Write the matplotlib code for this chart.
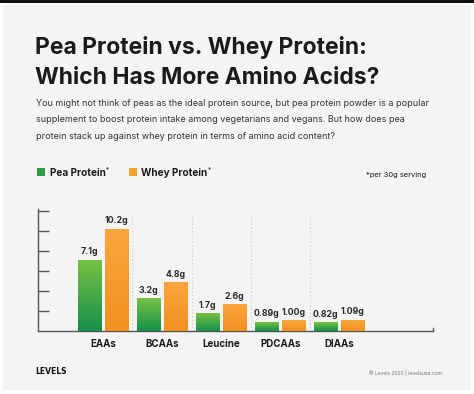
import matplotlib
matplotlib.use("Agg")
import matplotlib.pyplot as plt
import matplotlib.patches as patches
from matplotlib.colors import LinearSegmentedColormap
import numpy as np

##########################
# Data
##########################
categories = ["EAAs", "BCAAs", "Leucine", "PDCAAs", "DIAAs"]
pea_values = [7.1, 3.2, 1.7, 0.89, 0.82]
whey_values = [10.2, 4.8, 2.6, 1.00, 1.09]
pea_labels = ["7.1g", "3.2g", "1.7g", "0.89g", "0.82g"]
whey_labels = ["10.2g", "4.8g", "2.6g", "1.00g", "1.09g"]
y_ticks = [2, 4, 6, 8, 10, 12]

##########################
# Constants
##########################
W, H = 474, 394
bg_grey = "#f4f4f4"
text_dark = "#1b1b1b"
axis_grey = "#555555"
pea_cmap = LinearSegmentedColormap.from_list("pea", ["#15904a", "#76c143"])
whey_cmap = LinearSegmentedColormap.from_list("whey", ["#f39020", "#f9a63d"])
bar_w = 0.39
offset = 0.229
font = ["Inter", "DejaVu Sans"]


def fx(x):
    return x / W


def fy(y):
    return 1 - y / H


def gradient_bar(ax, x0, height, cmap):
    grad = np.linspace(0, 1, 64).reshape(-1, 1)
    ax.imshow(grad, extent=[x0 - bar_w / 2, x0 + bar_w / 2, 0, height],
              origin="lower", aspect="auto", cmap=cmap, zorder=3)


fig = plt.figure(figsize=(W / 100, H / 100), dpi=100, facecolor="white")

# panel background + black strip on top
fig.patches.append(patches.Rectangle((fx(3), fy(390)), fx(468), (390 - 5) / H,
                                     transform=fig.transFigure, facecolor=bg_grey,
                                     edgecolor="none", zorder=-5))
fig.patches.append(patches.Rectangle((0, fy(2.5)), 1, 2.5 / H, transform=fig.transFigure,
                                     facecolor="#111111", edgecolor="none", zorder=-5))

# header
fig.text(fx(35), fy(54), "Pea Protein vs. Whey Protein:", family=font, weight="bold",
         fontsize=16.5, color=text_dark, va="baseline")
fig.text(fx(35), fy(84), "Which Has More Amino Acids?", family=font, weight="bold",
         fontsize=16.5, color=text_dark, va="baseline")
para = ["You might not think of peas as the ideal protein source, but pea protein powder is a popular",
        "supplement to boost protein intake among vegetarians and vegans. But how does pea",
        "protein stack up against whey protein in terms of amino acid content?"]
for i, line in enumerate(para):
    fig.text(fx(36), fy(106 + i * 16.5), line, family=font, fontsize=6.47,
             color="#333333", va="baseline")

# legend
fig.patches.append(patches.Rectangle((fx(37), fy(176)), fx(8), 8 / H, transform=fig.transFigure,
                                     facecolor="#2e9a44", edgecolor="none"))
fig.text(fx(50), fy(176), "Pea Protein", family=font, weight="bold", fontsize=7.2,
         color=text_dark, va="baseline")
fig.text(fx(105.5), fy(171), "*", family=font, fontsize=4.5, color=text_dark, va="baseline")
fig.patches.append(patches.Rectangle((fx(129), fy(176)), fx(8), 8 / H, transform=fig.transFigure,
                                     facecolor="#f7a032", edgecolor="none"))
fig.text(fx(141), fy(176), "Whey Protein", family=font, weight="bold", fontsize=7.2,
         color=text_dark, va="baseline")
fig.text(fx(208), fy(171), "*", family=font, fontsize=4.5, color=text_dark, va="baseline")
fig.text(fx(366), fy(177), "*per 30g serving", family=font, fontsize=5.4,
         color=text_dark, va="baseline")

# chart
ax = fig.add_axes([fx(38), fy(331), fx(433 - 38), (331 - 209) / H])
ax.set_facecolor("none")
x = np.arange(len(categories))

ax.bar(x - offset, pea_values, width=bar_w, color="none", zorder=2)
ax.bar(x + offset, whey_values, width=bar_w, color="none", zorder=2)
for xi, pv, wv, pl, wl in zip(x, pea_values, whey_values, pea_labels, whey_labels):
    gradient_bar(ax, xi - offset, pv, pea_cmap)
    gradient_bar(ax, xi + offset, wv, whey_cmap)
    ax.text(xi - offset, pv + 0.6, pl, ha="center", va="baseline", family=font,
            weight="bold", fontsize=6.3, color="#2a2a2a")
    ax.text(xi + offset, wv + 0.6, wl, ha="center", va="baseline", family=font,
            weight="bold", fontsize=6.3, color="#2a2a2a")

# dotted separators between groups
for xs in x[:-1] + 0.5:
    ax.plot([xs, xs], [0, 11.5], color="#c8c8c8", lw=0.8, ls=(0, (1, 2.2)), zorder=1)

ax.set_xlim(-1.10, 5.59)
ax.set_ylim(0, 12.2)

for s in ["top", "right"]:
    ax.spines[s].set_visible(False)
for s in ["left", "bottom"]:
    ax.spines[s].set_color(axis_grey)
    ax.spines[s].set_linewidth(1.0)

ax.set_yticks(y_ticks)
ax.set_yticklabels([])
ax.tick_params(axis="y", direction="in", length=8, width=1, color=axis_grey)
ax.set_xticks(x)
ax.set_xticklabels(categories, family=font, weight="bold", fontsize=7, color=text_dark)
ax.tick_params(axis="x", length=0, pad=6)
# small end tick at the right of the baseline
ax.plot([5.59, 5.59], [0, 0.3], color=axis_grey, lw=1, clip_on=False)

# footer
fig.text(fx(35), fy(374), "LEVELS", family="DejaVu Sans", weight="bold",
         fontsize=5.5, color="#111111", va="baseline")
fig.text(fx(369), fy(375), "\u00a9 Levels 2020 | levelsusa.com", family=font, fontsize=3.6,
         color="#777777", va="baseline")

fig.savefig("out.png", dpi=100, facecolor="white")
